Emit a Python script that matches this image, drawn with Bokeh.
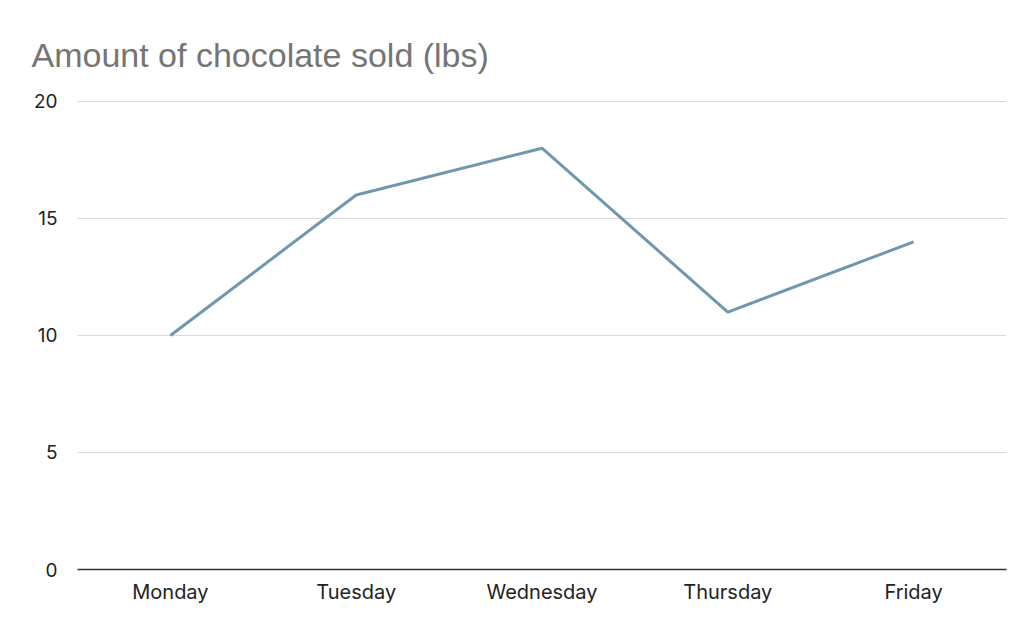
from bokeh.plotting import figure
from bokeh.models import Range1d, Title
from bokeh.embed import file_html
from bokeh.resources import INLINE

title_text = "Amount of chocolate sold (lbs)"
days = ["Monday", "Tuesday", "Wednesday", "Thursday", "Friday"]
pounds = [10, 16, 18, 11, 14]
y_ticks = [0, 5, 10, 15, 20]

p = figure(x_range=days, y_range=Range1d(0, 20.04), width=1024, height=640,
           output_backend="svg", toolbar_location=None,
           min_border_left=77, min_border_right=18, min_border_top=100, min_border_bottom=71)
p.add_layout(Title(text=title_text, text_font="Liberation Sans",
                   text_font_size="34px", text_font_style="normal", text_color="#757575",
                   vertical_align="top", offset=-46, standoff=49), "above")
p.line(days, pounds, line_color="#6f98ae", line_width=3)

p.outline_line_color = None
p.xgrid.grid_line_color = None
p.ygrid.grid_line_color = "#d9d9d9"
p.ygrid.grid_line_width = 1
p.yaxis.ticker = y_ticks
p.yaxis.axis_line_color = None
p.yaxis.major_tick_line_color = None
p.yaxis.minor_tick_line_color = None
p.yaxis.major_label_text_font = "Inter"
p.yaxis.major_label_text_font_size = "19px"
p.yaxis.major_label_text_color = "#222222"
p.yaxis.major_label_standoff = 14
p.xaxis.axis_line_color = "#333333"
p.xaxis.axis_line_width = 1.5
p.xaxis.major_tick_line_color = None
p.xaxis.major_label_text_font = "Inter"
p.xaxis.major_label_text_font_size = "20px"
p.xaxis.major_label_text_color = "#222222"
p.xaxis.major_label_standoff = 4
p.x_range.range_padding = 0

open("out.html", "w").write(file_html(p, INLINE))
